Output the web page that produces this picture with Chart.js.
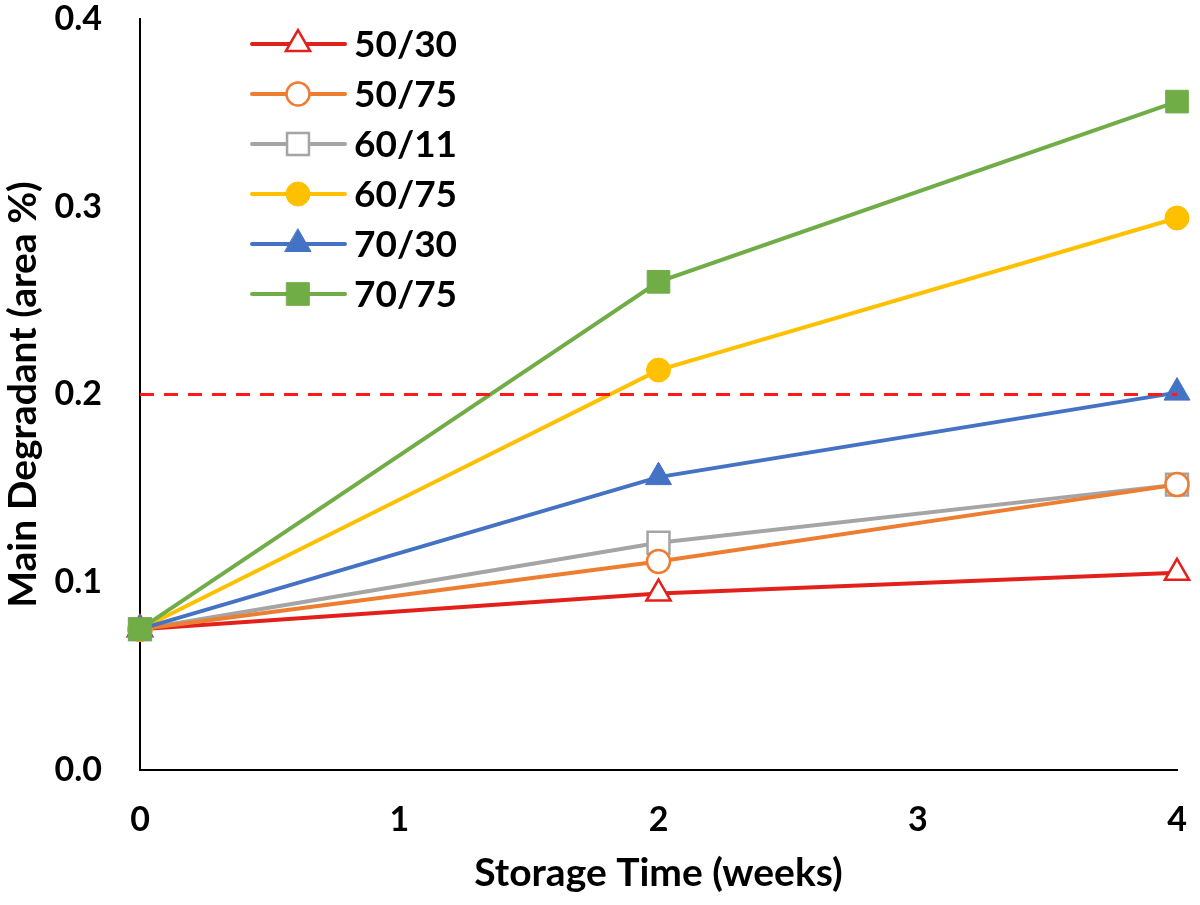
<!DOCTYPE html>
<html>
<head>
<meta charset="utf-8">
<script src="https://cdn.jsdelivr.net/npm/chart.js@4.4.1/dist/chart.umd.min.js"></script>
<style>
  html, body { margin: 0; padding: 0; background: #fff; }
  #wrap { width: 1200px; height: 905px; }
</style>
</head>
<body>
<div id="wrap"><canvas id="degChart"></canvas></div>
<script>
var weeks = [0, 2, 4];
var seriesLabels = ["50/30", "50/75", "60/11", "60/75", "70/30", "70/75"];
var s5030 = [0.075, 0.094, 0.105];
var s5075 = [0.075, 0.111, 0.152];
var s6011 = [0.075, 0.121, 0.152];
var s6075 = [0.075, 0.213, 0.294];
var s7030 = [0.075, 0.156, 0.201];
var s7075 = [0.075, 0.260, 0.356];
var limitValue = 0.2;
var xTicks = [0, 1, 2, 3, 4];
var yTicks = [0, 0.1, 0.2, 0.3, 0.4];

var FONT = "Lato, 'Open Sans', sans-serif";

function pts(vals) {
    return vals.map(function(v, i) { return {x: weeks[i], y: v}; });
}

function series(i, vals, color, style, radius, open, order) {
    return {
        label: seriesLabels[i],
        data: pts(vals),
        borderColor: color,
        backgroundColor: color,
        borderWidth: 4,
        pointStyle: style,
        pointRadius: radius,
        pointHoverRadius: radius,
        pointBorderColor: color,
        pointBackgroundColor: open ? "#ffffff" : color,
        pointBorderWidth: open ? 2.5 : 1,
        order: order,
        clip: false,
        tension: 0
    };
}

// order: lower number is drawn on top
var datasets = [
    series(0, s5030, "#E3211C", "triangle", 14, true, 6),
    series(1, s5075, "#ED7D31", "circle", 11.5, true, 4),
    series(2, s6011, "#A5A5A5", "rect", 15.5, true, 5),
    series(3, s6075, "#FFC000", "circle", 12, false, 3),
    series(4, s7030, "#4472C4", "triangle", 15, false, 2),
    series(5, s7075, "#70AD47", "rect", 16, false, 1),
    {
        label: "",
        isLimit: true,
        data: [{x: xTicks[0], y: limitValue}, {x: xTicks[xTicks.length - 1], y: limitValue}],
        borderColor: "#FF1A1A",
        borderWidth: 3,
        borderDash: [14, 10],
        pointRadius: 0,
        pointHoverRadius: 0,
        order: 0
    }
];

// legend drawn as line + marker like the original
var lineLegend = {
    id: "lineLegend",
    afterDraw: function(chart) {
        var ctx = chart.ctx;
        var area = chart.chartArea;
        var x0 = area.left + 112, top = area.top + 25, step = 50;
        ctx.save();
        ctx.font = "bold 37px " + FONT;
        ctx.textBaseline = "middle";
        var row = 0;
        chart.data.datasets.forEach(function(ds) {
            if (ds.isLimit) return;
            var y = top + row * step;
            ctx.strokeStyle = ds.borderColor;
            ctx.lineWidth = ds.borderWidth;
            ctx.lineCap = "round";
            ctx.beginPath();
            ctx.moveTo(x0, y);
            ctx.lineTo(x0 + 93, y);
            ctx.stroke();
            ctx.fillStyle = ds.pointBackgroundColor;
            ctx.strokeStyle = ds.pointBorderColor;
            ctx.lineWidth = ds.pointBorderWidth;
            Chart.helpers.drawPoint(ctx, {
                pointStyle: ds.pointStyle,
                radius: ds.pointRadius,
                rotation: 0,
                borderWidth: ds.pointBorderWidth
            }, x0 + 46, y);
            ctx.fillStyle = "#000";
            ctx.fillText(ds.label, x0 + 102, y + 1);
            row++;
        });
        ctx.restore();
    }
};

var config = {
    type: "line",
    data: { datasets: datasets },
    options: {
        responsive: true,
        maintainAspectRatio: false,
        animation: false,
        layout: { padding: { left: 0, right: 23, top: 19, bottom: 0 } },
        plugins: {
            legend: { display: false },
            tooltip: { enabled: false }
        },
        scales: {
            x: {
                type: "linear",
                min: 0,
                max: 4,
                grid: { display: false },
                border: { display: true, color: "#000", width: 2 },
                ticks: {
                    stepSize: 1,
                    padding: 22,
                    color: "#000",
                    font: { family: FONT, size: 34, weight: "bold" }
                },
                afterBuildTicks: function(scale) {
                    scale.ticks = xTicks.map(function(v) { return {value: v}; });
                },
                afterFit: function(scale) {
                    scale.height = 135;
                    scale.paddingLeft = 0;
                    scale.paddingRight = 0;
                },
                title: {
                    display: true,
                    text: "Storage Time (weeks)",
                    color: "#000",
                    font: { family: FONT, size: 39, weight: "bold" },
                    padding: { top: 0, bottom: 8 }
                }
            },
            y: {
                min: 0,
                max: 0.4,
                grid: { display: false },
                border: { display: true, color: "#000", width: 2 },
                ticks: {
                    stepSize: 0.1,
                    padding: 30,
                    color: "#000",
                    font: { family: FONT, size: 34, weight: "bold" },
                    callback: function(v) { return Number(v).toFixed(1); }
                },
                afterBuildTicks: function(scale) {
                    scale.ticks = yTicks.map(function(v) { return {value: v}; });
                },
                afterFit: function(scale) {
                    scale.width = 140;
                    scale.paddingTop = 0;
                    scale.paddingBottom = 0;
                },
                title: {
                    display: true,
                    text: "Main Degradant (area %)",
                    color: "#000",
                    font: { family: FONT, size: 39, weight: "bold" },
                    padding: { top: 0, bottom: 0 }
                }
            }
        }
    },
    plugins: [lineLegend]
};

var ctx = document.getElementById("degChart");
var degChart = new Chart(ctx, config);
</script>
</body>
</html>
